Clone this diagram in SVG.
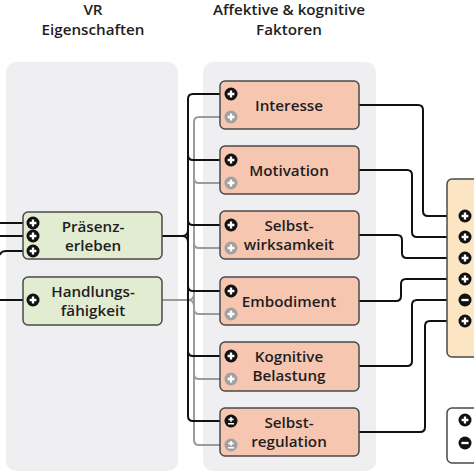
<svg xmlns="http://www.w3.org/2000/svg" xmlns:xlink="http://www.w3.org/1999/xlink" width="474" height="474" viewBox="0 0 474 474">
<defs>
<style>
.hdr{font-family:"Open Sans","Noto Sans",sans-serif;font-weight:600;font-size:15.2px;fill:#1e1e1e;text-anchor:middle}
.lbl{font-family:"Open Sans","Noto Sans",sans-serif;font-weight:600;font-size:15.2px;fill:#1e1e1e;text-anchor:middle}
.panel{fill:#efeff1}
.green{fill:#e2ecd1;stroke:#4a4a4a;stroke-width:1.5}
.orange{fill:#f6c6b1;stroke:#4a4a4a;stroke-width:1.5}
.yellow{fill:#fbe5c2;stroke:#4a4a4a;stroke-width:1.5}
.legend{fill:#ffffff;stroke:#4a4a4a;stroke-width:1.5}
.blk{fill:none;stroke:#111;stroke-width:2}
.gry{fill:none;stroke:#9b9b9b;stroke-width:2}
</style>
<g id="pb"><circle r="6.5" fill="#111"/><path d="M-3.4,0H3.4M0,-3.4V3.4" stroke="#fff" stroke-width="2.3"/></g>
<g id="pg"><circle r="6.5" fill="#a0a0a0"/><path d="M-3.4,0H3.4M0,-3.4V3.4" stroke="#fff" stroke-width="2.3"/></g>
<g id="mb"><circle r="6.5" fill="#111"/><path d="M-3.6,0H3.6" stroke="#fff" stroke-width="2.3"/></g>
<g id="pmb"><circle r="6.5" fill="#111"/><path d="M-2.6,-1.6H2.6M0,-4V0.8M-3,2.8H3" stroke="#fff" stroke-width="1.6"/></g>
<g id="pmg"><circle r="6.5" fill="#a0a0a0"/><path d="M-2.6,-1.6H2.6M0,-4V0.8M-3,2.8H3" stroke="#fff" stroke-width="1.6"/></g>
</defs>
<rect width="474" height="474" fill="#fff"/>
<text class="hdr" x="93" y="15">VR</text>
<text class="hdr" x="93" y="35">Eigenschaften</text>
<text class="hdr" x="289" y="15">Affektive &amp; kognitive</text>
<text class="hdr" x="289" y="35">Faktoren</text>
<rect class="panel" x="6" y="62" width="172" height="409" rx="10"/>
<rect class="panel" x="203" y="62" width="173" height="409" rx="10"/>

<g id="connectors">
<path class="gry" d="M225,117H199Q194,117 194,122V440Q194,445 199,445H225"/>
<path class="gry" d="M194,178Q194,183 199,183H225M194,243Q194,248 199,248H225M194,309Q194,314 199,314H225M194,374Q194,379 199,379H225"/>
<path class="gry" d="M162,300H188Q194,300 194,294M188,300Q194,300 194,306"/>
<path class="blk" d="M231,94H193Q188,94 188,99V416Q188,421 193,421H231"/>
<path class="blk" d="M188,155Q188,160 193,160H231M188,220Q188,225 193,225H231M188,286Q188,291 193,291H231M188,351Q188,356 193,356H231"/>
<path class="blk" d="M162,236H182Q188,236 188,230M182,236Q188,236 188,242"/>
<path class="blk" d="M0,223H33M0,236H33M0,255Q1,251 6,251H33M0,300H33"/>
<path class="blk" d="M359,105H418Q423,105 423,110V211Q423,216 428,216H465"/>
<path class="blk" d="M359,170H407Q412,170 412,175V232Q412,237 417,237H465"/>
<path class="blk" d="M359,235H397Q402,235 402,240V253Q402,258 407,258H465"/>
<path class="blk" d="M359,301H396Q401,301 401,296V284Q401,279 406,279H465"/>
<path class="blk" d="M359,366H407Q412,366 412,361V305Q412,300 417,300H465"/>
<path class="blk" d="M359,432H420Q425,432 425,427V326Q425,321 430,321H465"/>
</g>

<g id="praesenz">
<rect class="green" x="23" y="212" width="139" height="47" rx="5"/>
<text class="lbl" x="93" y="232">Präsenz-</text>
<text class="lbl" x="93" y="251">erleben</text>
<use xlink:href="#pb" x="33" y="223"/><use xlink:href="#pb" x="33" y="236"/><use xlink:href="#pb" x="33" y="251"/>
</g>
<g id="handlung">
<rect class="green" x="23" y="277" width="139" height="48" rx="5"/>
<text class="lbl" x="93" y="297">Handlungs-</text>
<text class="lbl" x="93" y="316">fähigkeit</text>
<use xlink:href="#pb" x="33" y="300"/>
</g>

<g id="interesse">
<rect class="orange" x="220" y="81" width="139" height="48" rx="5"/>
<text class="lbl" x="289" y="111">Interesse</text>
<use xlink:href="#pb" x="231" y="94"/><use xlink:href="#pg" x="231" y="117"/>
</g>
<g id="motivation">
<rect class="orange" x="220" y="146" width="139" height="48" rx="5"/>
<text class="lbl" x="289" y="176">Motivation</text>
<use xlink:href="#pb" x="231" y="160"/><use xlink:href="#pg" x="231" y="183"/>
</g>
<g id="selbstwirksamkeit">
<rect class="orange" x="220" y="211" width="139" height="48" rx="5"/>
<text class="lbl" x="289" y="231">Selbst-</text>
<text class="lbl" x="289" y="250">wirksamkeit</text>
<use xlink:href="#pb" x="231" y="225"/><use xlink:href="#pg" x="231" y="248"/>
</g>
<g id="embodiment">
<rect class="orange" x="220" y="277" width="139" height="48" rx="5"/>
<text class="lbl" x="289" y="307">Embodiment</text>
<use xlink:href="#pb" x="231" y="291"/><use xlink:href="#pg" x="231" y="314"/>
</g>
<g id="kognitive">
<rect class="orange" x="220" y="342" width="139" height="49" rx="5"/>
<text class="lbl" x="289" y="362">Kognitive</text>
<text class="lbl" x="289" y="381">Belastung</text>
<use xlink:href="#pb" x="231" y="356"/><use xlink:href="#pg" x="231" y="379"/>
</g>
<g id="selbstregulation">
<rect class="orange" x="220" y="408" width="139" height="48" rx="5"/>
<text class="lbl" x="289" y="428">Selbst-</text>
<text class="lbl" x="289" y="447">regulation</text>
<use xlink:href="#pmb" x="231" y="421"/><use xlink:href="#pmg" x="231" y="445"/>
</g>

<g id="outcome">
<rect class="yellow" x="447" y="179" width="40" height="178" rx="5"/>
<use xlink:href="#pb" x="465" y="216"/><use xlink:href="#pb" x="465" y="237"/><use xlink:href="#pb" x="465" y="258"/>
<use xlink:href="#pb" x="465" y="279"/><use xlink:href="#mb" x="465" y="300"/><use xlink:href="#pb" x="465" y="321"/>
</g>
<g id="legend">
<rect class="legend" x="447" y="408" width="40" height="55" rx="5"/>
<use xlink:href="#pb" x="465" y="420"/><use xlink:href="#mb" x="465" y="443"/>
</g>
</svg>
